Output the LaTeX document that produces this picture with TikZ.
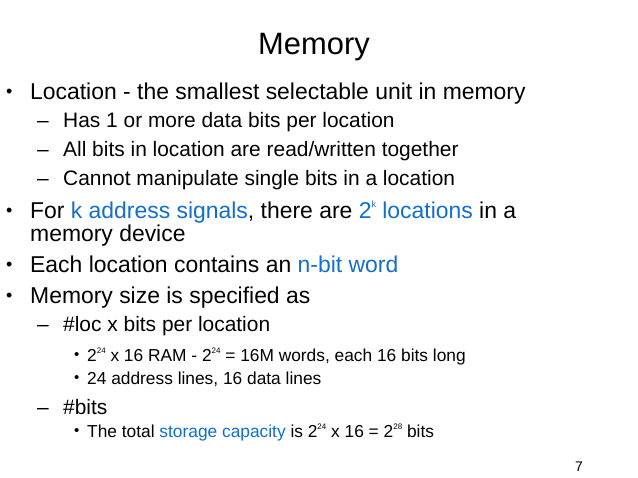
\documentclass[tikz,border=0pt]{standalone}
\usepackage{fontspec}
\setmainfont{Liberation Sans}
\definecolor{hl}{RGB}{20,110,200}
\begin{document}
\begin{tikzpicture}[x=1bp,y=-1bp,
  t/.style={anchor=base west,inner sep=0pt},
  lA/.style={t,font=\fontsize{23}{25}\selectfont},
  lB/.style={t,font=\fontsize{21}{23}\selectfont},
  lC/.style={t,font=\fontsize{17.4}{19}\selectfont}]
\useasboundingbox[fill=white] (0,0) rectangle (638,478);
\node[anchor=base,inner sep=0pt,font=\fontsize{31}{34}\selectfont] (title) at (314,55) {Memory};
% level 1
\foreach \y/\n in {100/b1,219/b2,272/b3,303/b4}{\node[t,font=\fontsize{18}{20}\selectfont] (\n) at (6,\y-2) {•};}
\node[lA] (a1) at (30,100) {Location - the smallest selectable unit in memory};
\node[lA] (a2) at (30,219) {For \textcolor{hl}{k address signals}, there are \textcolor{hl}{2\raisebox{0.5em}{\fontsize{9}{10}\selectfont k}} \textcolor{hl}{locations} in a};
\node[lA] (a2b) at (30,242) {memory device};
\node[lA] (a3) at (30,272) {Each location contains an \textcolor{hl}{n-bit word}};
\node[lA] (a4) at (30,303) {Memory size is specified as};
% level 2
\foreach \y/\n in {128/d1,157/d2,186/d3,331/d4,414/d5}{\node[lB] (\n) at (37,\y) {–};}
\node[lB] (c1) at (63,128) {Has 1 or more data bits per location};
\node[lB] (c2) at (63,157) {All bits in location are read/written together};
\node[lB] (c3) at (63,186) {Cannot manipulate single bits in a location};
\node[lB] (c4) at (63,331) {\#loc x bits per location};
\node[lB] (c5) at (63,414) {\#bits};
% level 3
\foreach \y/\n in {361/e1,384/e2,437/e3}{\node[t,font=\fontsize{15}{17}\selectfont] (\n) at (74,\y-2) {•};}
\newcommand{\supr}[1]{\raisebox{0.45em}{\fontsize{8}{9}\selectfont #1}}
\node[lC] (f1) at (87,361) {2\supr{24} x 16 RAM - 2\supr{24} = 16M words, each 16 bits long};
\node[lC] (f2) at (87,384) {24 address lines, 16 data lines};
\node[lC] (f3) at (87,437) {The total \textcolor{hl}{storage capacity} is 2\supr{24} x 16 = 2\supr{28} bits};
\node[anchor=base east,inner sep=0pt,font=\fontsize{14}{15}\selectfont] (pg) at (583,471) {7};
\end{tikzpicture}
\end{document}
